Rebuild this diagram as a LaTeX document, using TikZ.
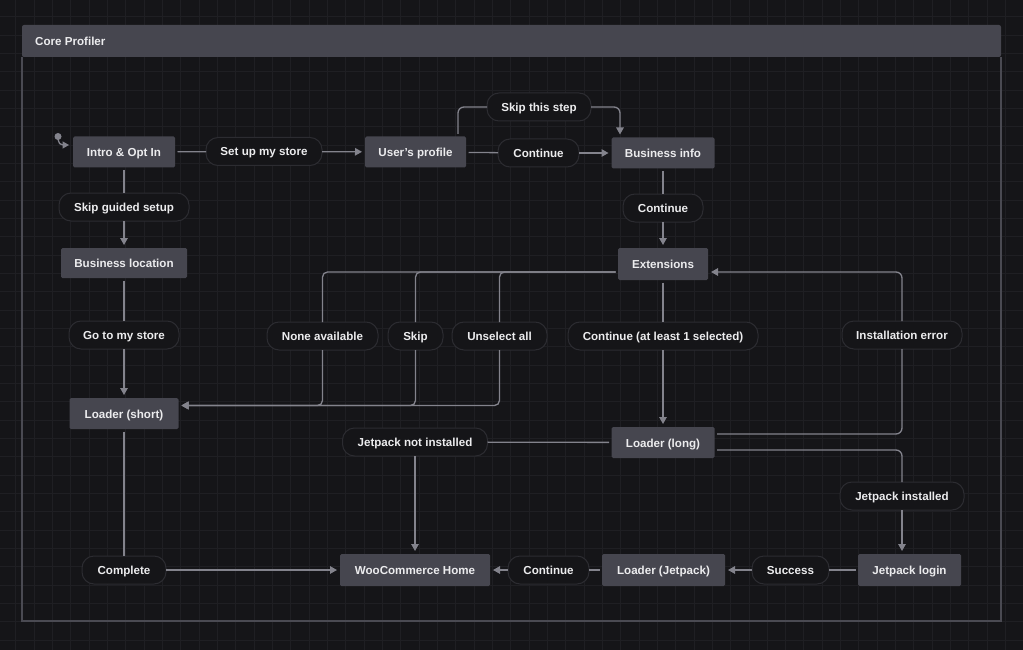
\documentclass[tikz,border=0pt]{standalone}
\usepackage{fontspec}
\setmainfont{Liberation Sans}
\usetikzlibrary{arrows.meta,calc}
\definecolor{bgc}{HTML}{151518}
\definecolor{gridc}{HTML}{1F1F23}
\definecolor{nodec}{HTML}{46464F}
\definecolor{pillb}{HTML}{2C2C31}
\definecolor{linec}{HTML}{83838C}
\definecolor{txtc}{HTML}{ECECEE}
\definecolor{framec}{HTML}{4A4A52}
\tikzset{
  lbl/.style={font=\fontsize{11.6}{13}\selectfont\bfseries, text=txtc, text height=9pt, text depth=0pt},
  state/.style={lbl, rectangle, fill=nodec, rounded corners=1.5pt, minimum height=31pt, inner sep=0pt, outer sep=2.5pt},
  pill/.style={lbl, rectangle, draw=pillb, line width=1pt, fill=bgc, rounded corners=12pt, minimum height=28pt, inner sep=0pt, outer sep=0pt},
  edge/.style={draw=linec, line width=1.3pt},
  arr/.style={edge, -{Triangle[length=7pt,width=7.5pt]}, shorten >=0.5pt},
}
\begin{document}
\begin{tikzpicture}[x=1pt,y=-1pt]
\useasboundingbox (0,0) rectangle (1023,650);
\fill[bgc] (0,0) rectangle (1023,650);
% grid
\foreach \i in {0,...,55} {\draw[gridc, line width=0.8pt] ({15.7+18.33*\i},0) -- ({15.7+18.33*\i},650);}
\foreach \i in {0,...,35} {\draw[gridc, line width=0.8pt] (0,{16.75+18.33*\i}) -- (1023,{16.75+18.33*\i});}
% container
\fill[nodec, rounded corners=2pt] (22,25) rectangle (1001,57);
\draw[framec, line width=1.5pt] (22,57) -- (22,621) -- (1001,621) -- (1001,57);
\node[lbl, anchor=west, inner sep=0pt] (title) at (35,41) {Core Profiler};

% states
\node[state, minimum width=102pt] (intro) at (124,152) {Intro \& Opt In};
\node[state, minimum width=101pt] (up) at (415.5,152) {User's profile};
\node[state, minimum width=103pt] (bi) at (663,153) {Business info};
\node[state, minimum width=90pt, minimum height=32pt] (ext) at (663,264) {Extensions};
\node[state, minimum width=126pt, minimum height=30pt] (bl) at (124,263) {Business location};
\node[state, minimum width=109pt] (ls) at (124,413.5) {Loader (short)};
\node[state, minimum width=103pt] (ll) at (663,442.5) {Loader (long)};
\node[state, minimum width=150pt, minimum height=32pt] (woo) at (415,570) {WooCommerce Home};
\node[state, minimum width=123pt, minimum height=32pt] (lj) at (663.5,570) {Loader (Jetpack)};
\node[state, minimum width=103pt, minimum height=32pt] (jl) at (909.5,570) {Jetpack login};

% event pills
\node[pill, minimum width=116pt] (setup) at (264,151.5) {Set up my store};
\node[pill, minimum width=130pt] (sgs) at (124,207) {Skip guided setup};
\node[pill, minimum width=104pt] (sts) at (539,107) {Skip this step};
\node[pill, minimum width=81pt] (c1) at (538.5,153) {Continue};
\node[pill, minimum width=80pt] (c2) at (663,208) {Continue};
\node[pill, minimum width=110pt] (gms) at (124,335) {Go to my store};
\node[pill, minimum width=111pt] (na) at (322.5,336) {None available};
\node[pill, minimum width=55pt] (skip) at (415.5,336) {Skip};
\node[pill, minimum width=95pt] (ua) at (499.5,336) {Unselect all};
\node[pill, minimum width=190pt] (cal) at (663,336) {Continue (at least 1 selected)};
\node[pill, minimum width=120pt] (ie) at (902,335) {Installation error};
\node[pill, minimum width=145pt] (jni) at (415,442) {Jetpack not installed};
\node[pill, minimum width=124pt] (ji) at (902,496) {Jetpack installed};
\node[pill, minimum width=84pt] (comp) at (124,570) {Complete};
\node[pill, minimum width=81pt] (c3) at (548.5,570) {Continue};
\node[pill, minimum width=77pt] (succ) at (790.5,570) {Success};

% initial marker
\node[circle, fill=linec, inner sep=0pt, minimum size=7pt] (init) at (58,136.5) {};
\draw[arr, -{Triangle[length=6.5pt,width=7pt]}] (init.center) .. controls (58,144) and (61,145) .. ($(intro.west)+(-1,-7)$);

% transitions
\draw[edge] (intro) -- (setup);
\draw[arr] (setup) -- (up);
\draw[edge] (intro) -- (sgs);
\draw[arr] (sgs) -- (bl);
\draw[edge] (bl) -- (gms);
\draw[arr] (gms) -- (ls);

\draw[edge, rounded corners=6pt] (458,0 |- up.north) |- (sts.west);
\draw[arr, rounded corners=6pt] (sts.east) -| (620,0 |- bi.north);
\draw[edge] (up) -- (c1);
\draw[arr] (c1) -- (bi);
\draw[edge] (bi) -- (c2);
\draw[arr] (c2) -- (ext);

\draw[edge, rounded corners=5pt] (ext.west |- 0,272) -| (na.north);
\draw[edge, rounded corners=5pt] (ext.west |- 0,272) -| (skip.north);
\draw[edge, rounded corners=5pt] (ext.west |- 0,272) -| (ua.north);
\draw[arr, rounded corners=5pt] (na.south) |- (ls.east |- 0,405.5);
\draw[arr, rounded corners=5pt] (skip.south) |- (ls.east |- 0,405.5);
\draw[arr, rounded corners=5pt] (ua.south) |- (ls.east |- 0,405.5);

\draw[edge] (ext) -- (cal);
\draw[arr] (cal) -- (ll);

\draw[edge, rounded corners=6pt] (ll.east |- 0,434) -| (ie.south);
\draw[arr, rounded corners=6pt] (ie.north) |- (ext.east |- 0,272);
\draw[edge, rounded corners=6pt] (ll.east |- 0,450) -| (ji.north);
\draw[arr] (ji.south) -- (ji.south |- jl.north);

\draw[edge] (ll) -- (jni);
\draw[arr] (jni) -- (woo);
\draw[edge] (ls) -- (comp);
\draw[arr] (comp) -- (woo);
\draw[edge] (jl) -- (succ);
\draw[arr] (succ) -- (lj);
\draw[edge] (lj) -- (c3);
\draw[arr] (c3) -- (woo);
\end{tikzpicture}
\end{document}
